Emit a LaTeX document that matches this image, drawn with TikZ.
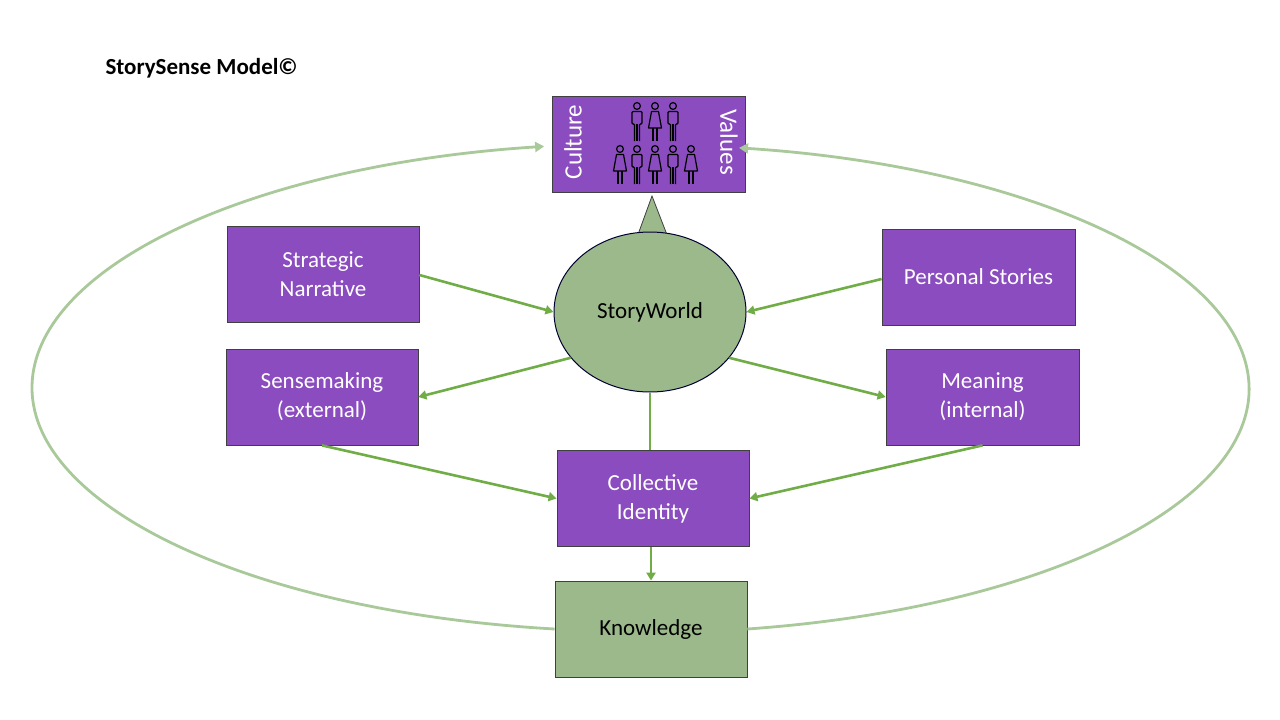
\documentclass[tikz,border=0pt]{standalone}
\usepackage{fontspec}
\setmainfont{Carlito}
\usetikzlibrary{arrows.meta,shapes.geometric}
\definecolor{purp}{HTML}{8A4CBF}
\definecolor{sgreen}{HTML}{9BB98A}
\definecolor{lgreen}{HTML}{A9C99A}
\definecolor{agreen}{HTML}{70AD47}
\begin{document}
\begin{tikzpicture}[x=1pt,y=-1pt,
 box/.style={draw=black!75,line width=0.8pt,fill=purp,text=white,minimum width=192pt,minimum height=96pt,align=center,font=\fontsize{23}{29}\selectfont},
 gbox/.style={box,fill=sgreen,text=black},
 arr/.style={draw=agreen,line width=2.6pt,-{Triangle[width=9pt,length=8pt]}},
 ln/.style={draw=agreen,line width=2.6pt},
 outer/.style={draw=lgreen,line width=2.8pt,-{Triangle[width=10pt,length=9pt]}},
 man/.pic={\draw[line width=1.2pt] (0,-15) circle (3.4);
   \draw[line width=1.2pt,rounded corners=1pt] (-2.5,20) -- (-2.5,3) -- (-5,3) -- (-5,-9.5) -- (5,-9.5) -- (5,3) -- (2.5,3) -- (2.5,20);
   \draw[line width=1.2pt] (0,3) -- (0,20);},
 woman/.pic={\draw[line width=1.2pt] (0,-15) circle (3.4);
   \draw[line width=1.2pt,line join=round] (-3.5,-9.5) -- (3.5,-9.5) -- (6.5,7) -- (-6.5,7) -- cycle;
   \draw[line width=1.2pt] (-2,7) -- (-2,20) (2,7) -- (2,20);}
]
\useasboundingbox (0,0) rectangle (1280,720);
\node[anchor=west,font=\fontsize{23}{28}\selectfont\bfseries] (title) at (102,68) {StorySense Model©};

\draw[fill=sgreen,draw=black!75,line width=0.8pt] (652,196) -- (669,240) -- (636,240) -- cycle;
\node[box,minimum width=193pt] (cult) at (648.5,144) {};
\node[rotate=90,text=white,font=\fontsize{25}{30}\selectfont] (culture) at (573,142) {Culture};
\node[rotate=-90,text=white,font=\fontsize{25}{30}\selectfont] (values) at (729,142) {Values};
\pic at (637,121) {man};
\pic at (655,121) {woman};
\pic at (673,121) {man};
\pic at (620,164) {woman};
\pic at (637,164) {man};
\pic at (655,164) {woman};
\pic at (673,164) {man};
\pic at (691,164) {woman};

\node[ellipse,draw=black!80!blue,line width=1pt,fill=sgreen,minimum width=192pt,minimum height=160pt,font=\fontsize{23}{28}\selectfont] (sw) at (650,312) {StoryWorld};

\node[box] (sn) at (323,274) {Strategic\\Narrative};
\node[box,minimum width=193pt] (ps) at (978.5,277) {Personal Stories};
\node[box] (se) at (322,397) {Sensemaking\\(external)};
\node[box,minimum width=193pt] (me) at (982.5,397) {Meaning\\(internal)};
\node[box] (ci) at (653,498.5) {Collective\\Identity};
\node[gbox] (kn) at (651,629) {Knowledge};

\draw[arr] (sn.east) ++(0,1) -- (sw.west);
\draw[arr] (ps.west) ++(0,2) -- (sw.east);
\draw[arr] (sw.-150) -- (se.east);
\draw[arr] (sw.-30) -- (me.west);
\draw[ln] (sw.south) -- (ci.north -| sw.south);
\draw[arr] (se.south) -- (ci.west);
\draw[arr] (me.south) -- (ci.east);
\draw[arr] (ci.south -| kn.north) -- (kn.north);

\draw[outer] (kn.west) arc[start angle=98, end angle=261, x radius=607, y radius=244];
\draw[outer] (kn.east) arc[start angle=80, end angle=-80.8, x radius=607, y radius=244];
\end{tikzpicture}
\end{document}
